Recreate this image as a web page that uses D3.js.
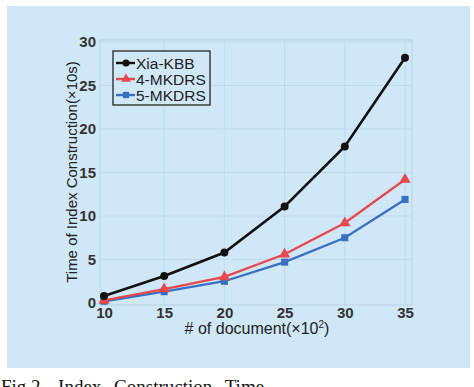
<!DOCTYPE html>
<html><head><meta charset="utf-8">
<script src="https://cdn.jsdelivr.net/npm/d3@7"></script>
<style>body{margin:0;background:#fff;}svg{display:block;}</style>
</head><body>
<script>
const docs = [10, 15, 20, 25, 30, 35];
const xiaKBB = [0.8, 3.1, 5.8, 11.1, 18.0, 28.2];
const mkdrs4 = [0.3, 1.6, 3.0, 5.6, 9.2, 14.2];
const mkdrs5 = [0.2, 1.3, 2.5, 4.7, 7.5, 11.9];
const yTicks = [0, 5, 10, 15, 20, 25, 30];
const seriesNames = ["Xia-KBB", "4-MKDRS", "5-MKDRS"];
const seriesColors = ["#111111", "#e5484d", "#3b6fbf"];
const seriesShapes = [d3.symbolCircle, d3.symbolTriangle, d3.symbolSquare];

const W = 474, H = 387;
const svg = d3.select("body").append("svg").attr("width", W).attr("height", H);

// background panel
svg.append("rect").attr("x", 7).attr("y", 6).attr("width", 463).attr("height", 362).attr("fill", "#cfe7f7");

const x = d3.scaleLinear().domain([10, 35]).range([104, 405]);
const y = d3.scaleLinear().domain([0, 30]).range([303, 42]);
const plotL = 100, plotR = 412, plotT = 40, plotB = 305;

// plot frame
svg.append("rect").attr("x", plotL).attr("y", plotT).attr("width", plotR - plotL).attr("height", plotB - plotT)
  .attr("fill", "none").attr("stroke", "#b9d3e3").attr("stroke-width", 1);

// grid
svg.append("g").selectAll("line").data(docs.slice(1)).join("line")
  .attr("x1", d => x(d)).attr("x2", d => x(d)).attr("y1", plotT).attr("y2", plotB)
  .attr("stroke", "#bdd7e8").attr("stroke-width", 0.8);
svg.append("g").selectAll("line").data(yTicks.slice(1)).join("line")
  .attr("x1", plotL).attr("x2", plotR).attr("y1", d => y(d)).attr("y2", d => y(d))
  .attr("stroke", "#bdd7e8").attr("stroke-width", 0.8);

const font = "Liberation Sans, Arial, sans-serif";

// axes via d3
const xAxis = svg.append("g").attr("transform", `translate(0,${plotB})`)
  .call(d3.axisBottom(x).tickValues(docs).tickSize(0).tickPadding(2));
xAxis.select(".domain").remove();
xAxis.selectAll("text").attr("font-family", font).attr("font-size", 15).attr("font-weight", "bold").attr("fill", "#333");

const yAxis = svg.append("g").attr("transform", `translate(${plotL - 2},0)`)
  .call(d3.axisLeft(y).tickValues(yTicks).tickSize(0).tickPadding(2));
yAxis.select(".domain").remove();
yAxis.selectAll("text").attr("font-family", font).attr("font-size", 15).attr("font-weight", "bold").attr("fill", "#333");

// axis titles
svg.append("text").attr("x", 257).attr("y", 334).attr("text-anchor", "middle")
  .attr("font-family", font).attr("font-size", 16).attr("fill", "#222")
  .html('# of document(×10<tspan dy="-6" font-size="10">2</tspan><tspan dy="6">)</tspan>');
svg.append("text").attr("transform", "translate(77,172) rotate(-90)").attr("text-anchor", "middle")
  .attr("font-family", font).attr("font-size", 15).attr("fill", "#222")
  .text("Time of Index Construction(×10s)");

// series
const allSeries = [xiaKBB, mkdrs4, mkdrs5];
const line = d3.line().x((d, i) => x(docs[i])).y(d => y(d));
[2, 1, 0].forEach(k => {
  svg.append("path").datum(allSeries[k]).attr("d", line).attr("fill", "none")
    .attr("stroke", seriesColors[k]).attr("stroke-width", k === 0 ? 2.6 : 2.3);
  svg.append("g").selectAll("path").data(allSeries[k]).join("path")
    .attr("transform", (d, i) => `translate(${x(docs[i])},${y(d)})`)
    .attr("d", d3.symbol().type(seriesShapes[k]).size(k === 1 ? 55 : 50))
    .attr("fill", seriesColors[k]);
});

// legend
const lg = svg.append("g");
lg.append("rect").attr("x", 113).attr("y", 51).attr("width", 97).attr("height", 54)
  .attr("fill", "#cfe7f7").attr("stroke", "#333").attr("stroke-width", 1.4);
seriesNames.forEach((name, k) => {
  const yy = 63 + k * 16;
  lg.append("line").attr("x1", 116).attr("x2", 135).attr("y1", yy).attr("y2", yy)
    .attr("stroke", seriesColors[k]).attr("stroke-width", 2.4);
  lg.append("path").attr("transform", `translate(126,${yy})`)
    .attr("d", d3.symbol().type(seriesShapes[k]).size(40)).attr("fill", seriesColors[k]);
  lg.append("text").attr("x", 136).attr("y", yy + 5.5).attr("font-family", font)
    .attr("font-size", 15.5).attr("fill", "#222").text(name);
});

// caption (cut off at the bottom edge, as in the reference)
svg.append("text").attr("x", 1).attr("y", 393).attr("font-family", "Liberation Serif, Times New Roman, serif")
  .attr("font-size", 19).attr("fill", "#111").attr("word-spacing", 8).text("Fig.2. Index Construction Time");
</script>
</body></html>
